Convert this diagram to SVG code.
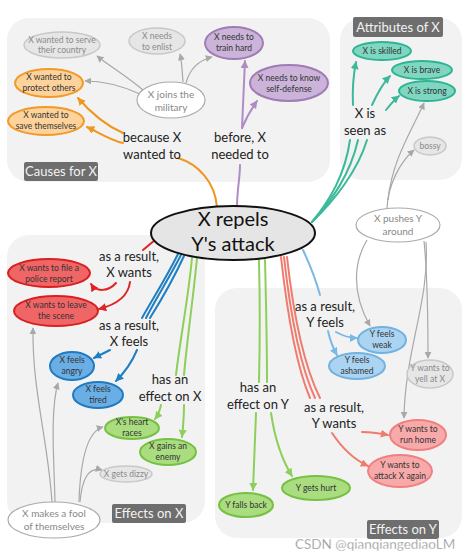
<svg xmlns="http://www.w3.org/2000/svg" width="474" height="554" viewBox="0 0 474 554">
<style>
.panel{fill:#f2f2f2}
.plabel rect{fill:#6e6e6e}
.plabel text{fill:#f2f2f2;font-size:13px;text-anchor:middle}
text{font-family:Lato,"Open Sans","Liberation Sans",sans-serif}
.lbl{font-size:13px;fill:#222;text-anchor:middle}
.nt{font-size:8.5px;fill:#333;text-anchor:middle}
.gt{font-size:8.5px;fill:#8a8a8a;text-anchor:middle}
.wt{font-size:10px;fill:#888;text-anchor:middle}
.c{fill:none;stroke-width:2;stroke-linecap:round}
.g{fill:none;stroke:#a8a8a8;stroke-width:1.2}
.or{stroke:#f0951e}.pu{stroke:#b08cc4}.te{stroke:#3bb99a}.rd{stroke:#e02424}
.bl{stroke:#1e7fc2}.gr{stroke:#8ccf5a}.lb{stroke:#7ab8e6}.sa{stroke:#f07a6e}
.n-or{fill:#fdd39b;stroke:#f09a2a;stroke-width:2}
.n-pu{fill:#cbb3d9;stroke:#a07bb5;stroke-width:2}
.n-te{fill:#7fd6c1;stroke:#2fb392;stroke-width:2}
.n-rd{fill:#f06666;stroke:#d82020;stroke-width:2}
.n-bl{fill:#6aaee6;stroke:#1f7ac0;stroke-width:2}
.n-gr{fill:#a9dd80;stroke:#77c043;stroke-width:2}
.n-lb{fill:#aad4f2;stroke:#72b2e0;stroke-width:2}
.n-sa{fill:#f8a9a9;stroke:#f07f7f;stroke-width:2}
.n-gy{fill:#e6e6e6;stroke:#c8c8c8;stroke-width:1.5}
.n-wh{fill:#fff;stroke:#aaa;stroke-width:1.2}
</style>
<defs>
<marker id="a-g" viewBox="0 0 10 10" refX="9" refY="5" markerWidth="7" markerHeight="7" markerUnits="userSpaceOnUse" orient="auto"><path d="M0,0 L10,5 L0,10 z" fill="#a8a8a8"/></marker>
<marker id="a-or" viewBox="0 0 10 10" refX="9" refY="5" markerWidth="8" markerHeight="8" markerUnits="userSpaceOnUse" orient="auto"><path d="M0,0 L10,5 L0,10 z" fill="#f0951e"/></marker>
<marker id="a-pu" viewBox="0 0 10 10" refX="9" refY="5" markerWidth="8" markerHeight="8" markerUnits="userSpaceOnUse" orient="auto"><path d="M0,0 L10,5 L0,10 z" fill="#b08cc4"/></marker>
<marker id="a-te" viewBox="0 0 10 10" refX="9" refY="5" markerWidth="8" markerHeight="8" markerUnits="userSpaceOnUse" orient="auto"><path d="M0,0 L10,5 L0,10 z" fill="#3bb99a"/></marker>
<marker id="a-rd" viewBox="0 0 10 10" refX="9" refY="5" markerWidth="8" markerHeight="8" markerUnits="userSpaceOnUse" orient="auto"><path d="M0,0 L10,5 L0,10 z" fill="#e02424"/></marker>
<marker id="a-bl" viewBox="0 0 10 10" refX="9" refY="5" markerWidth="8" markerHeight="8" markerUnits="userSpaceOnUse" orient="auto"><path d="M0,0 L10,5 L0,10 z" fill="#1e7fc2"/></marker>
<marker id="a-gr" viewBox="0 0 10 10" refX="9" refY="5" markerWidth="8" markerHeight="8" markerUnits="userSpaceOnUse" orient="auto"><path d="M0,0 L10,5 L0,10 z" fill="#8ccf5a"/></marker>
<marker id="a-lb" viewBox="0 0 10 10" refX="9" refY="5" markerWidth="8" markerHeight="8" markerUnits="userSpaceOnUse" orient="auto"><path d="M0,0 L10,5 L0,10 z" fill="#7ab8e6"/></marker>
<marker id="a-sa" viewBox="0 0 10 10" refX="9" refY="5" markerWidth="8" markerHeight="8" markerUnits="userSpaceOnUse" orient="auto"><path d="M0,0 L10,5 L0,10 z" fill="#f07a6e"/></marker>
</defs>
<rect width="474" height="554" fill="#fff"/>
<g id="panels">
<rect class="panel" x="7" y="18" width="323" height="164" rx="22"/>
<rect class="panel" x="340" y="18" width="122" height="162" rx="22"/>
<rect class="panel" x="7" y="235" width="198" height="288" rx="22"/>
<rect class="panel" x="215" y="288" width="247" height="250" rx="22"/>
<g class="plabel"><rect x="24" y="162" width="74" height="19" rx="2"/><text x="61" y="176">Causes for X</text></g>
<g class="plabel"><rect x="353" y="17" width="90" height="20" rx="2"/><text x="398" y="32">Attributes of X</text></g>
<g class="plabel"><rect x="112" y="504" width="74" height="19" rx="2"/><text x="149" y="518">Effects on X</text></g>
<g class="plabel"><rect x="367" y="520" width="72" height="19" rx="2"/><text x="403" y="534">Effects on Y</text></g>
</g>
<g id="connectors">
<path class="c or" d="M217,207 C215,182 198,164 178,158"/>
<path class="c or" d="M123,133 C105,125 90,112 78,98" marker-end="url(#a-or)"/>
<path class="c or" d="M123,143 C110,140 98,132 87,127" marker-end="url(#a-or)"/>
<path class="c pu" d="M237,207 C237,190 240,178 240,165"/>
<path class="c pu" d="M242,128 C243,105 244,80 245,61" marker-end="url(#a-pu)"/>
<path class="c pu" d="M242,128 C247,116 252,108 257,101" marker-end="url(#a-pu)"/>
<path class="c te" d="M312,222 C330,200 345,175 350,140"/>
<path class="c te" d="M312,222 C332,200 350,175 358,140"/>
<path class="c te" d="M312,222 C335,200 358,170 367,140"/>
<path class="c te" d="M353,105 C352,85 354,72 356,62" marker-end="url(#a-te)"/>
<path class="c te" d="M372,105 C378,92 383,83 390,76" marker-end="url(#a-te)"/>
<path class="c te" d="M386,110 C390,105 394,100 399,96" marker-end="url(#a-te)"/>
<path class="g" d="M387,208 C388,185 400,162 414,150" marker-end="url(#a-g)"/>
<path class="g" d="M388,200 C392,160 412,130 424,103" marker-end="url(#a-g)"/>
<path class="g" d="M143,90 C125,75 108,65 97,56" marker-end="url(#a-g)"/>
<path class="g" d="M140,94 C120,85 100,81 85,81" marker-end="url(#a-g)"/>
<path class="g" d="M183,82 C182,70 182,62 180,54" marker-end="url(#a-g)"/>
<path class="g" d="M186,83 C190,68 200,60 212,57" marker-end="url(#a-g)"/>
<path class="c rd" d="M155,240 L143,250"/>
<path class="c rd" d="M116,283 C108,292 96,292 91,284" marker-end="url(#a-rd)"/>
<path class="c rd" d="M130,282 C128,298 115,305 99,309" marker-end="url(#a-rd)"/>
<path class="c bl" d="M178,254 C165,280 152,300 142,318"/>
<path class="c bl" d="M181,255 C168,280 155,300 146,318"/>
<path class="c bl" d="M184,256 C172,282 160,302 150,318"/>
<path class="c bl" d="M110,350 C104,353 98,356 94,358" marker-end="url(#a-bl)"/>
<path class="c bl" d="M137,350 C132,362 125,372 116,381" marker-end="url(#a-bl)"/>
<path class="c gr" d="M192,258 C188,300 180,340 176,375"/>
<path class="c gr" d="M197,258 C193,300 187,340 184,375"/>
<path class="c gr" d="M161,405 C160,410 158,415 155,419" marker-end="url(#a-gr)"/>
<path class="c gr" d="M184,405 C184,418 183,428 182,437" marker-end="url(#a-gr)"/>
<path class="g" d="M52,502 C48,440 32,390 33,328" marker-end="url(#a-g)"/>
<path class="g" d="M55,502 C54,460 50,410 58,383" marker-end="url(#a-g)"/>
<path class="g" d="M79,502 C80,470 85,432 103,427" marker-end="url(#a-g)"/>
<path class="g" d="M80,502 C82,480 88,466 102,470" marker-end="url(#a-g)"/>
<path class="c lb" d="M303,250 C310,265 316,280 320,295"/>
<path class="c lb" d="M336,332 C343,336 350,338 357,338" marker-end="url(#a-lb)"/>
<path class="c lb" d="M328,331 C330,340 333,348 337,355" marker-end="url(#a-lb)"/>
<path class="g" d="M367,240 C355,260 350,290 370,326" marker-end="url(#a-g)"/>
<path class="g" d="M424,241 C428,280 428,320 428,358" marker-end="url(#a-g)"/>
<path class="g" d="M426,242 C430,300 405,350 404,418" marker-end="url(#a-g)"/>
<path class="c sa" d="M281,257 C288,320 298,370 310,398"/>
<path class="c sa" d="M284,257 C291,320 302,370 315,398"/>
<path class="c sa" d="M287,257 C294,320 306,370 320,398"/>
<path class="c sa" d="M362,432 C370,432 378,433 388,435" marker-end="url(#a-sa)"/>
<path class="c sa" d="M332,433 C342,448 355,460 368,466" marker-end="url(#a-sa)"/>
<path class="c gr" d="M259,260 C260,300 260,340 259,382"/>
<path class="c gr" d="M265,260 C266,300 267,340 267,382"/>
<path class="c gr" d="M256,413 C255,440 254,465 253,490" marker-end="url(#a-gr)"/>
<path class="c gr" d="M271,413 C275,440 282,460 292,476" marker-end="url(#a-gr)"/>
</g>
<g id="edge-labels">
<text class="lbl" x="152" y="142">because X</text><text class="lbl" x="152" y="159">wanted to</text>
<text class="lbl" x="240" y="142">before, X</text><text class="lbl" x="240" y="159">needed to</text>
<text class="lbl" x="365" y="118">X is</text><text class="lbl" x="365" y="135">seen as</text>
<text class="lbl" x="129" y="261">as a result,</text><text class="lbl" x="129" y="277">X wants</text>
<text class="lbl" x="129" y="330">as a result,</text><text class="lbl" x="129" y="346">X feels</text>
<text class="lbl" x="170" y="384">has an</text><text class="lbl" x="170" y="401">effect on X</text>
<text class="lbl" x="325" y="311">as a result,</text><text class="lbl" x="325" y="327">Y feels</text>
<text class="lbl" x="258" y="392">has an</text><text class="lbl" x="258" y="409">effect on Y</text>
<text class="lbl" x="334" y="412">as a result,</text><text class="lbl" x="334" y="428">Y wants</text>
</g>
<g id="center"><ellipse cx="233" cy="233" rx="82" ry="27" fill="#e5e5e5" stroke="#111" stroke-width="2"/><text x="233" y="226" font-size="20" fill="#111" text-anchor="middle">X repels</text><text x="233" y="251" font-size="20" fill="#111" text-anchor="middle">Y's attack</text></g>
<g id="n-serve"><ellipse class="n-gy" cx="62" cy="45" rx="38" ry="13"/><text class="gt" x="62" y="43">X wanted to serve</text><text class="gt" x="62" y="53">their country</text></g>
<g id="n-enlist"><ellipse class="n-gy" cx="157" cy="41" rx="28" ry="13"/><text class="gt" x="157" y="39">X needs</text><text class="gt" x="157" y="50">to enlist</text></g>
<g id="n-train"><ellipse class="n-pu" cx="234" cy="43" rx="29" ry="16"/><text class="nt" x="234" y="40">X needs to</text><text class="nt" x="234" y="51">train hard</text></g>
<g id="n-selfdef"><ellipse class="n-pu" cx="289" cy="83" rx="39" ry="18"/><text class="nt" x="289" y="81">X needs to know</text><text class="nt" x="289" y="92">self-defense</text></g>
<g id="n-protect"><ellipse class="n-or" cx="49" cy="83" rx="34" ry="14"/><text class="nt" x="49" y="80">X wanted to</text><text class="nt" x="49" y="91">protect others</text></g>
<g id="n-save"><ellipse class="n-or" cx="46" cy="121" rx="38" ry="14"/><text class="nt" x="46" y="118">X wanted to</text><text class="nt" x="46" y="129">save themselves</text></g>
<g id="n-military"><ellipse class="n-wh" cx="171" cy="100" rx="34" ry="18"/><text class="wt" x="171" y="98">X joins the</text><text class="wt" x="171" y="111">military</text></g>
<g id="n-skilled"><ellipse class="n-te" cx="382" cy="51" rx="29" ry="9"/><text class="nt" x="382" y="54">X is skilled</text></g>
<g id="n-brave"><ellipse class="n-te" cx="422" cy="70" rx="30" ry="9"/><text class="nt" x="422" y="73">X is brave</text></g>
<g id="n-strong"><ellipse class="n-te" cx="427" cy="91" rx="28" ry="10"/><text class="nt" x="427" y="94">X is strong</text></g>
<g id="n-bossy"><ellipse class="n-gy" cx="430" cy="146" rx="16" ry="9"/><text class="gt" x="430" y="149">bossy</text></g>
<g id="n-pushes"><ellipse class="n-wh" cx="398" cy="225" rx="42" ry="17"/><text class="wt" x="398" y="222">X pushes Y</text><text class="wt" x="398" y="235">around</text></g>
<g id="n-police"><ellipse class="n-rd" cx="49" cy="273" rx="41" ry="14"/><text class="nt" x="49" y="271">X wants to file a</text><text class="nt" x="49" y="282">police report</text></g>
<g id="n-leave"><ellipse class="n-rd" cx="56" cy="311" rx="42" ry="15"/><text class="nt" x="56" y="308">X wants to leave</text><text class="nt" x="56" y="319">the scene</text></g>
<g id="n-angry"><ellipse class="n-bl" cx="72" cy="366" rx="22" ry="14"/><text class="nt" x="72" y="363">X feels</text><text class="nt" x="72" y="374">angry</text></g>
<g id="n-tired"><ellipse class="n-bl" cx="98" cy="395" rx="25" ry="13"/><text class="nt" x="98" y="392">X feels</text><text class="nt" x="98" y="403">tired</text></g>
<g id="n-heart"><ellipse class="n-gr" cx="132" cy="428" rx="27" ry="11"/><text class="nt" x="132" y="425">X's heart</text><text class="nt" x="132" y="436">races</text></g>
<g id="n-enemy"><ellipse class="n-gr" cx="168" cy="452" rx="28" ry="13"/><text class="nt" x="168" y="449">X gains an</text><text class="nt" x="168" y="460">enemy</text></g>
<g id="n-dizzy"><ellipse class="n-gy" cx="126" cy="474" rx="26" ry="8"/><text class="gt" x="126" y="477">X gets dizzy</text></g>
<g id="n-fool"><ellipse class="n-wh" cx="54" cy="520" rx="46" ry="18"/><text class="wt" x="54" y="517">X makes a fool</text><text class="wt" x="54" y="530">of themselves</text></g>
<g id="n-weak"><ellipse class="n-lb" cx="382" cy="340" rx="24" ry="13"/><text class="nt" x="382" y="337">Y feels</text><text class="nt" x="382" y="348">weak</text></g>
<g id="n-ashamed"><ellipse class="n-lb" cx="357" cy="366" rx="28" ry="13"/><text class="nt" x="357" y="363">Y feels</text><text class="nt" x="357" y="374">ashamed</text></g>
<g id="n-yell"><ellipse class="n-gy" cx="430" cy="374" rx="23" ry="14"/><text class="gt" x="430" y="371">Y wants to</text><text class="gt" x="430" y="382">yell at X</text></g>
<g id="n-runhome"><ellipse class="n-sa" cx="418" cy="435" rx="28" ry="15"/><text class="nt" x="418" y="432">Y wants to</text><text class="nt" x="418" y="443">run home</text></g>
<g id="n-attack"><ellipse class="n-sa" cx="400" cy="471" rx="32" ry="16"/><text class="nt" x="400" y="468">Y wants to</text><text class="nt" x="400" y="479">attack X again</text></g>
<g id="n-fallsback"><ellipse class="n-gr" cx="246" cy="505" rx="27" ry="12"/><text class="nt" x="246" y="508">Y falls back</text></g>
<g id="n-hurt"><ellipse class="n-gr" cx="316" cy="488" rx="34" ry="12"/><text class="nt" x="316" y="491">Y gets hurt</text></g>
<text x="295" y="549" font-family="'Liberation Sans',Arial,sans-serif" font-size="13.5" fill="#8a8a8a" stroke="#fff" stroke-width="0.3">CSDN @qianqiangediaoLM</text>
</svg>
